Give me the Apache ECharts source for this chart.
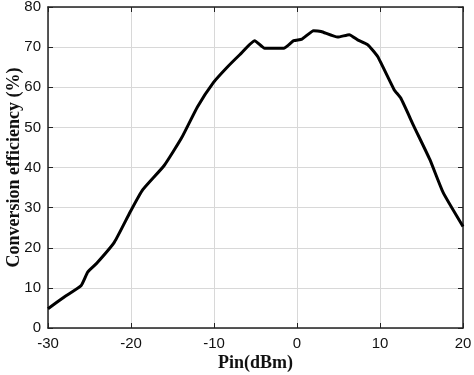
<!DOCTYPE html>
<html><head><meta charset="utf-8">
<script src="https://cdn.jsdelivr.net/npm/echarts@6/dist/echarts.min.js"></script>
<style>html,body{margin:0;padding:0;background:#fff}#c{width:474px;height:375px}</style>
</head><body><div id="c"></div>
<script>
const pin = [-30, -28, -26, -25.2, -24.1, -22, -20.1, -18.6, -16, -13.9, -12, -10.1, -8.5, -6.9, -5.1, -3.9, -1.6, -0.4, 0.6, 2.0, 2.9, 4.9, 6.3, 7.3, 8.5, 9.7, 11.7, 12.5, 14.1, 16, 17.6, 20];
const efficiency = [4.8, 7.8, 10.6, 14.0, 16.2, 21.4, 28.9, 34.4, 40.5, 47.4, 55.1, 61.1, 64.8, 68.1, 71.6, 69.7, 69.7, 71.6, 72.0, 74.1, 73.9, 72.5, 73.1, 71.8, 70.6, 67.7, 59.4, 57.3, 50.2, 42.0, 33.8, 25.3];
const xTicks = [-30, -20, -10, 0, 10, 20];
const yTicks = [0, 10, 20, 30, 40, 50, 60, 70, 80];

const chart = echarts.init(document.getElementById('c'));
const tickFont = {fontFamily: 'Liberation Sans', fontSize: 15, color: '#111'};
const axisLine = {show: true, onZero: false, lineStyle: {color: '#222', width: 1.5}};
const tick = {show: true, inside: true, length: 5, lineStyle: {color: '#222'}};
chart.setOption({
  animation: false,
  grid: {left: 48, right: 11, top: 7, bottom: 47, containLabel: false, outerBoundsMode: 'none'},
  xAxis: [{
    type: 'value', min: xTicks[0], max: xTicks[xTicks.length-1], interval: 10,
    axisLine: axisLine, axisTick: tick,
    axisLabel: Object.assign({margin: 8}, tickFont),
    splitLine: {show: true, lineStyle: {color: '#d8d8d8', width: 1}},
    name: 'Pin(dBm)', nameLocation: 'middle', nameGap: 26, nameMoveOverlap: false,
    nameTextStyle: {fontFamily: 'Liberation Serif', fontWeight: 'bold', fontSize: 18, color: '#111'}
  }, {
    type: 'value', position: 'top', min: xTicks[0], max: xTicks[xTicks.length-1], interval: 10,
    axisLine: axisLine, axisTick: tick,
    axisLabel: {show: false}, splitLine: {show: false}
  }],
  yAxis: [{
    type: 'value', min: yTicks[0], max: yTicks[yTicks.length-1], interval: 10,
    axisLine: axisLine, axisTick: tick,
    axisLabel: Object.assign({margin: 7}, tickFont),
    splitLine: {show: true, lineStyle: {color: '#d8d8d8', width: 1}},
    name: 'Conversion efficiency (%)', nameLocation: 'middle', nameGap: 25, nameMoveOverlap: false,
    nameTextStyle: {fontFamily: 'Liberation Serif', fontWeight: 'bold', fontSize: 18, color: '#111'}
  }, {
    type: 'value', position: 'right', min: yTicks[0], max: yTicks[yTicks.length-1], interval: 10,
    axisLine: axisLine, axisTick: tick,
    axisLabel: {show: false}, splitLine: {show: false}
  }],
  series: [{
    type: 'line', xAxisIndex: 0, yAxisIndex: 0,
    data: pin.map((x, i) => [x, efficiency[i]]),
    showSymbol: false, smooth: 0.15,
    lineStyle: {color: '#000', width: 3}
  }]
});
</script></body></html>
